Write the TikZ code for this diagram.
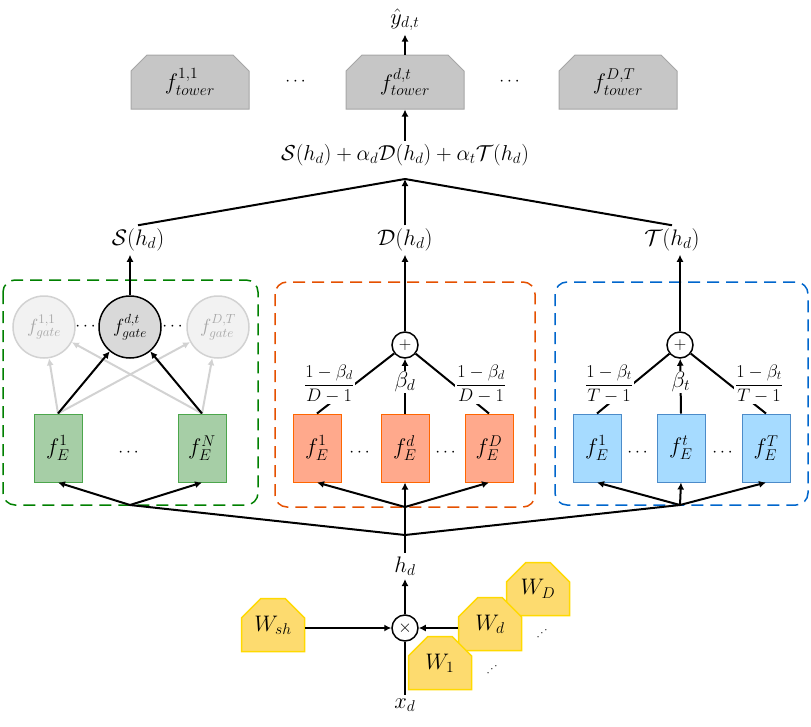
\documentclass[tikz,border=0pt]{standalone}
\usepackage{amsmath}
\usetikzlibrary{shapes.misc,arrows.meta}
\newcommand{\mz}[2][1.3]{\scalebox{#1}{$#2$}}
\begin{document}
\begin{tikzpicture}[x=1pt,y=-1pt,
  every node/.style={font=\fontsize{17.28}{20}\selectfont},
  arr/.style={line width=2pt,-{Latex[length=7pt,width=7pt]}},
  ln/.style={line width=2pt},
  gl/.style={line width=2pt,draw=gray!35,-{Latex[length=7pt,width=7pt]}},
  tower/.style={chamfered rectangle,chamfered rectangle corners={north west,north east},chamfered rectangle xsep=8pt,chamfered rectangle ysep=8pt,fill=gray!45,draw=gray!70,line width=1pt,minimum width=118pt,minimum height=54pt,inner sep=0pt},
  wbox/.style={chamfered rectangle,chamfered rectangle corners={north west,north east},chamfered rectangle xsep=10pt,chamfered rectangle ysep=10pt,fill=yellow!55!orange!55,draw=orange!30!yellow,line width=1.5pt,minimum width=63pt,minimum height=53pt,inner sep=0pt},
  ge/.style={draw=green!50!black!70,fill=green!45!black!35!white,line width=1pt,minimum width=48pt,minimum height=68pt,inner sep=0pt},
  oe/.style={draw=orange!80!red,fill=orange!50!red!45!white,line width=1pt,minimum width=48pt,minimum height=68pt,inner sep=0pt},
  be/.style={draw=blue!50!cyan!70!black!70,fill=blue!40!cyan!35!white,line width=1pt,minimum width=48pt,minimum height=68pt,inner sep=0pt},
  gate/.style={circle,minimum size=62pt,inner sep=0pt,line width=1.5pt},
  op/.style={circle,draw,line width=1.5pt,minimum size=26pt,inner sep=0pt},
  dbox/.style={dashed,dash pattern=on 12pt off 7pt,line width=1.5pt,rounded corners=12pt},
  lbl/.style={fill=white,inner sep=1pt}]
\useasboundingbox (0,0) rectangle (811,726);
% top
\node (y) at (405,20) {\mz{\hat y_{d,t}}};
\node[tower] (t1) at (190,82) {\mz{f^{1,1}_{tower}}};
\node[tower] (t2) at (405,82) {\mz{f^{d,t}_{tower}}};
\node[tower] (t3) at (618,82) {\mz{f^{D,T}_{tower}}};
\node (td1) at (297,82) {$\cdots$};
\node (td2) at (511,82) {$\cdots$};
\node (sum) at (405,155) {\mz[1.25]{\mathcal{S}(h_d)+\alpha_d\mathcal{D}(h_d)+\alpha_t\mathcal{T}(h_d)}};
\draw[arr] (sum.north) -- (t2.south);
\draw[arr] (t2.north) -- (y.south);
\coordinate (m) at (405,179);
\node (S) at (138,240) {\mz{\mathcal{S}(h_d)}};
\node (D) at (405,240) {\mz{\mathcal{D}(h_d)}};
\node (T) at (672,240) {\mz{\mathcal{T}(h_d)}};
\draw[ln] (S.north) -- (m);
\draw[ln] (T.north) -- (m);
\draw[arr] (D.north) -- (m);
% boxes
\draw[dbox,draw=green!50!black] (3,280) rectangle (258,505);
\draw[dbox,draw=orange!70!red!90!black] (275,282) rectangle (535,507);
\draw[dbox,draw=blue!50!cyan!80!black] (555,282) rectangle (808,505);
% left
\node[gate,draw=gray!35,fill=gray!10,text=gray!70] (g1) at (44,327) {\mz[1.1]{f^{1,1}_{gate}}};
\node[gate,draw=black,fill=gray!30] (g2) at (130,327) {\mz[1.1]{f^{d,t}_{gate}}};
\node[gate,draw=gray!35,fill=gray!10,text=gray!70] (g3) at (218,327) {\mz[1.1]{f^{D,T}_{gate}}};
\node at (87,327) {$\cdots$};
\node at (174,327) {$\cdots$};
\node[ge] (e1) at (58,448) {\mz{f^1_E}};
\node[ge] (eN) at (202,448) {\mz{f^N_E}};
\node at (130,453) {$\cdots$};
\draw[gl] (e1.north) -- (g1);
\draw[gl] (e1.north) -- (g3);
\draw[gl] (eN.north) -- (g1);
\draw[gl] (eN.north) -- (g3);
\draw[arr] (e1.north) -- (g2);
\draw[arr] (eN.north) -- (g2);
\draw[arr] (g2.north) -- (g2.north |- S.south);
% middle
\node[op] (pd) at (405,345) {$+$};
\node[oe] (d1) at (317,448) {\mz{f^1_E}};
\node[oe] (dd) at (405,448) {\mz{f^d_E}};
\node[oe] (dD) at (489,448) {\mz{f^D_E}};
\node at (361,453) {$\cdots$};
\node at (447,453) {$\cdots$};
\draw[ln] (d1.north) -- (pd);
\draw[ln] (dD.north) -- (pd);
\draw[arr] (dd.north) -- (pd);
\draw[arr] (pd.north) -- (D.south);
\node[lbl] at (329,384) {\mz[1.05]{\dfrac{1-\beta_d}{D-1}}};
\node[lbl] at (481,384) {\mz[1.05]{\dfrac{1-\beta_d}{D-1}}};
\node[lbl] at (405,382) {\mz{\beta_d}};
% right
\node[op] (pt) at (680,345) {$+$};
\node[be] (b1) at (597,448) {\mz{f^1_E}};
\node[be] (bt) at (681,448) {\mz{f^t_E}};
\node[be] (bT) at (766,448) {\mz{f^T_E}};
\node at (639,453) {$\cdots$};
\node at (724,453) {$\cdots$};
\draw[ln] (b1.north) -- (pt);
\draw[ln] (bT.north) -- (pt);
\draw[arr] (bt.north) -- (pt);
\draw[arr] (pt.north) -- (pt.north |- T.south);
\node[lbl] at (609,384) {\mz[1.05]{\dfrac{1-\beta_t}{T-1}}};
\node[lbl] at (759,384) {\mz[1.05]{\dfrac{1-\beta_t}{T-1}}};
\node[lbl] at (681,382) {\mz{\beta_t}};
% fans
\coordinate (hub) at (405,535);
\coordinate (hg) at (130,505);
\coordinate (ho) at (405,507);
\coordinate (hb) at (680,505);
\draw[ln] (hub) -- (hg); \draw[ln] (hub) -- (ho); \draw[ln] (hub) -- (hb);
\draw[arr] (hg) -- (e1.south); \draw[arr] (hg) -- (eN.south);
\draw[arr] (ho) -- (d1.south); \draw[arr] (ho) -- (dd.south); \draw[arr] (ho) -- (dD.south);
\draw[arr] (hb) -- (b1.south); \draw[arr] (hb) -- (bt.south); \draw[arr] (hb) -- (bT.south);
% bottom
\node (h) at (405,566) {\mz{h_d}};
\draw[ln] (h.north) -- (hub);
\node[op] (ot) at (405,628) {$\times$};
\draw[arr] (ot.north) -- (h.south);
\node (x) at (405,705) {\mz{x_d}};
\draw[ln] (x.north) -- (ot.south);
\node[wbox] (wsh) at (273,625) {\mz{W_{sh}}};
\node[wbox] (wD) at (538,589) {\mz{W_D}};
\node[wbox] (wd) at (490,624) {\mz{W_d}};
\node[wbox] (w1) at (440,663) {\mz{W_1}};
\node[rotate=45,font=\fontsize{12}{14}\selectfont] at (543,633) {$\cdots$};
\node[rotate=45,font=\fontsize{12}{14}\selectfont] at (493,669) {$\cdots$};
\draw[arr] (wsh.east |- ot) -- (ot.west);
\draw[arr] (wd.west |- ot) -- (ot.east);
\end{tikzpicture}
\end{document}
